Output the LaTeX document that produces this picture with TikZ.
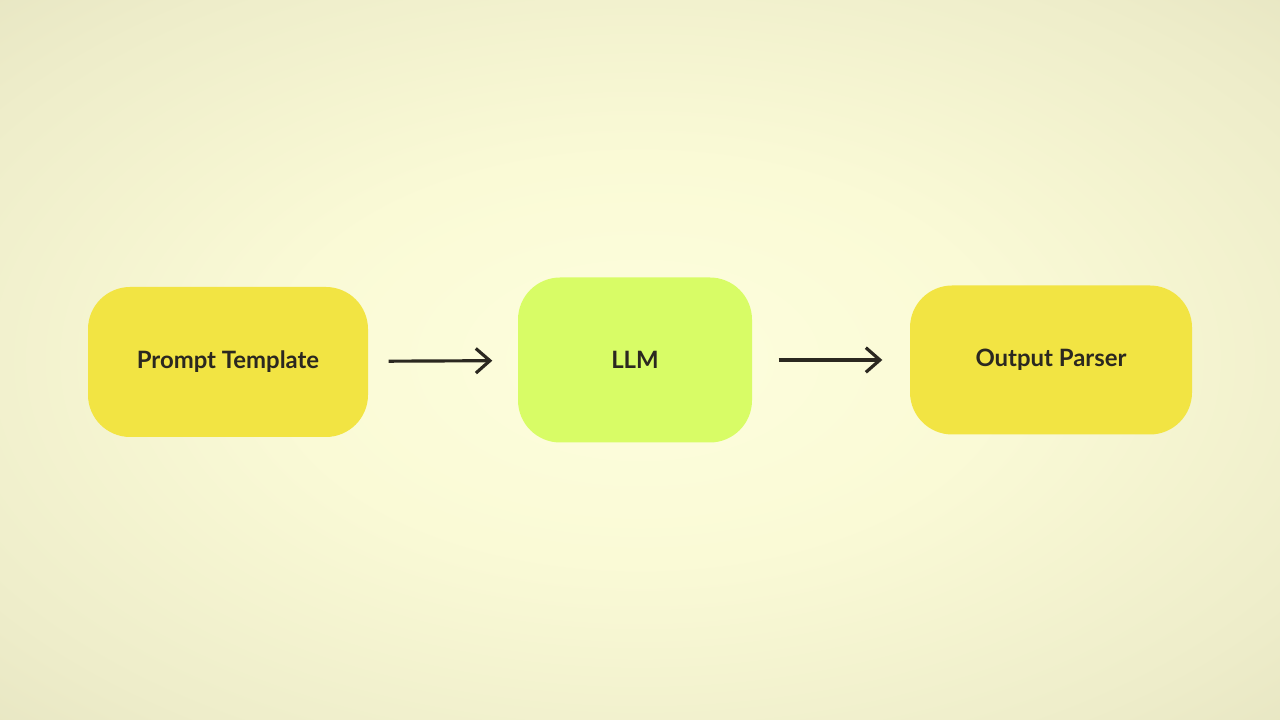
\documentclass[tikz,border=0pt]{standalone}
\usepackage{fontspec}
\setsansfont{Lato}
\usetikzlibrary{positioning,arrows.meta}
\definecolor{blobyellow}{HTML}{F2E443}
\definecolor{blobgreen}{HTML}{D8FC66}
\definecolor{inktext}{HTML}{2B2820}
\pgfdeclareradialshading{backglow}{\pgfpoint{0bp}{0bp}}{%
  color(0bp)=(rgb,255:red,253;green,254;blue,221);
  color(14bp)=(rgb,255:red,250;green,250;blue,214);
  color(30bp)=(rgb,255:red,238;green,237;blue,202);
  color(50bp)=(rgb,255:red,218;green,216;blue,180)}
\begin{document}
\begin{tikzpicture}[blob node/.style={fill=blobyellow,rounded corners=12pt,text=inktext,font=\sffamily\bfseries\fontsize{6.8}{8}\selectfont},
  flow arrow/.style={-{Straight Barb[length=4pt,width=7pt]},line width=0.9pt,draw=inktext}]
  \useasboundingbox (0,0) rectangle (12.8,7.2);
  \shade[shading=backglow] (0,0) rectangle (12.8,7.2);
  \node[blob node,minimum width=2.8cm,minimum height=1.5cm] (prompt) at (2.28, 3.58) {Prompt Template};
  \node[blob node,fill=blobgreen,minimum width=2.34cm,minimum height=1.65cm] (llm) at (6.35, 3.6) {LLM};
  \node[blob node,minimum width=2.82cm,minimum height=1.49cm] (parser) at (10.51, 3.6) {Output Parser};
  \draw[flow arrow,shorten <=0.2cm,shorten >=0.25cm] (prompt) -- (llm);
  \draw[flow arrow,shorten <=0.26cm,shorten >=0.27cm] (llm) -- (parser);
\end{tikzpicture}
\end{document}
